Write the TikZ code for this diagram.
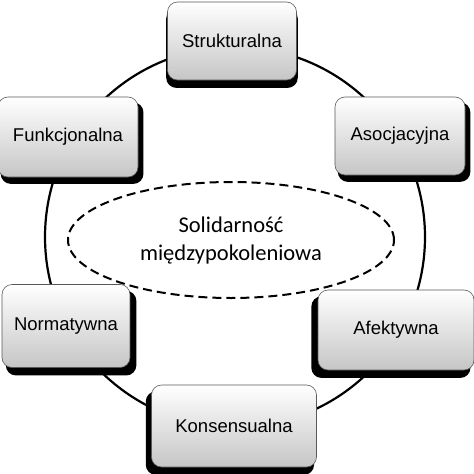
\documentclass[tikz,border=0pt]{standalone}
\usepackage{fontspec}
\setmainfont{Liberation Sans}
\newfontfamily\calibri{Carlito}
\usetikzlibrary{shapes.geometric,shadows}

\begin{document}
\begin{tikzpicture}[x=1pt, y=-1pt,
   ring/.style={draw, circle, line width=2.2pt, minimum size=380pt, inner sep=0pt},
   core/.style={draw, ellipse, dashed, dash pattern=on 9pt off 5pt, line width=2pt,
                minimum width=326pt, minimum height=116pt, inner sep=0pt,
                font=\calibri\fontsize{22.5}{28}\selectfont, align=center},
   dim/.style 2 args={drop shadow={shadow xshift=#1, shadow yshift=#2, shadow scale=1.02,
                fill=black, opacity=1}},
   kind/.style={draw=gray!70!black, line width=0.6pt, rounded corners=10pt,
                top color=white, bottom color=gray!45, text=black,
                font=\fontsize{18.5}{21}\selectfont, inner sep=0pt}]

\useasboundingbox (0,0) rectangle (474,474);

\node[ring] (circ) at (235,237) {};
\node[core] (sol) at (231,240) {Solidarność\\międzypokoleniowa};

\node[kind, dim={0pt}{-7pt}, minimum width=129pt, minimum height=78pt] (str) at (232,41) {Strukturalna};
\node[kind, dim={4pt}{-6pt}, minimum width=140pt, minimum height=80pt] (fun) at (68,137) {Funkcjonalna};
\node[kind, dim={4pt}{-6pt}, minimum width=130pt, minimum height=78pt] (aso) at (400,136) {Asocjacyjna};
\node[kind, dim={5pt}{-7pt}, minimum width=128pt, minimum height=83pt] (nor) at (66,326) {Normatywna};
\node[kind, dim={-5pt}{-7pt}, minimum width=156pt, minimum height=80pt] (afe) at (396,330) {Afektywna};
\node[kind, dim={-4pt}{-7pt}, minimum width=165pt, minimum height=82pt] (kon) at (234,426) {Konsensualna};

\end{tikzpicture}
\end{document}
